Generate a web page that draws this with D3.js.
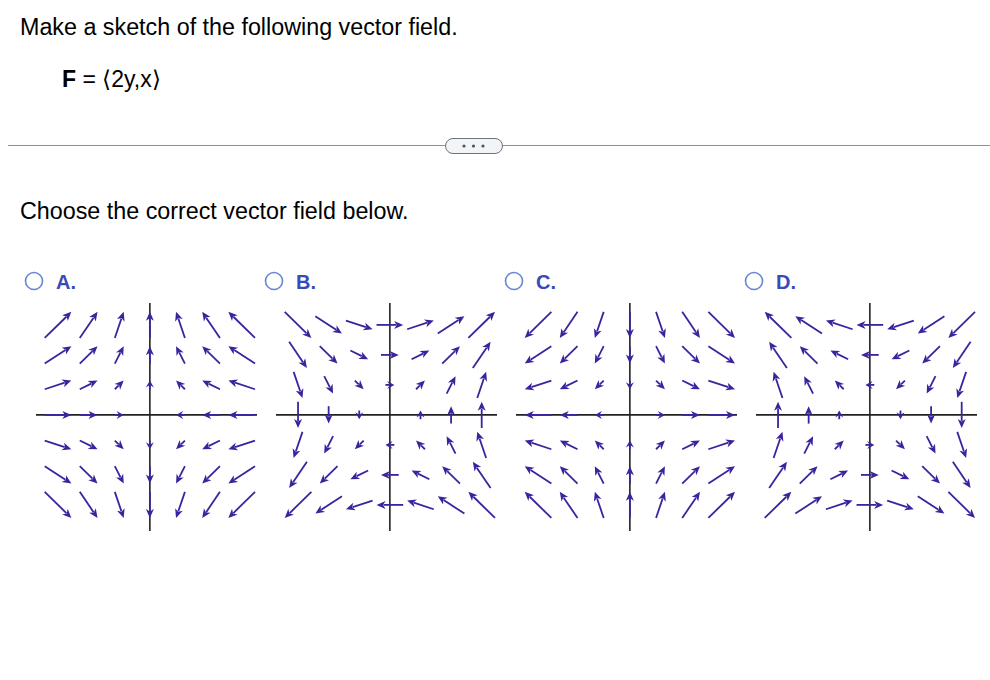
<!DOCTYPE html>
<html>
<head>
<meta charset="utf-8">
<script src="https://cdn.jsdelivr.net/npm/d3@7"></script>
<style>
  body { margin: 0; background: #fff; }
  svg { display: block; font-family: "Liberation Sans", Arial, sans-serif; }
</style>
</head>
<body>
<div id="chart"></div>
<script>
// Grid of sample points (columns left to right, rows top to bottom)
const gridX = [-3, -2, -1, 0, 1, 2, 3]
const gridY = [3, 2, 1, 0, -1, -2, -3]
const optionLabels = ['A.', 'B.', 'C.', 'D.']

const uA = [
  [3, 2, 1, 0, -1, -2, -3],
  [3, 2, 1, 0, -1, -2, -3],
  [3, 2, 1, 0, -1, -2, -3],
  [3, 2, 1, 0, -1, -2, -3],
  [3, 2, 1, 0, -1, -2, -3],
  [3, 2, 1, 0, -1, -2, -3],
  [3, 2, 1, 0, -1, -2, -3]]
const vA = [
  [3, 3, 3, 3, 3, 3, 3],
  [2, 2, 2, 2, 2, 2, 2],
  [1, 1, 1, 1, 1, 1, 1],
  [0, 0, 0, 0, 0, 0, 0],
  [-1, -1, -1, -1, -1, -1, -1],
  [-2, -2, -2, -2, -2, -2, -2],
  [-3, -3, -3, -3, -3, -3, -3]]
const uB = [
  [3, 3, 3, 3, 3, 3, 3],
  [2, 2, 2, 2, 2, 2, 2],
  [1, 1, 1, 1, 1, 1, 1],
  [0, 0, 0, 0, 0, 0, 0],
  [-1, -1, -1, -1, -1, -1, -1],
  [-2, -2, -2, -2, -2, -2, -2],
  [-3, -3, -3, -3, -3, -3, -3]]
const vB = [
  [-3, -2, -1, 0, 1, 2, 3],
  [-3, -2, -1, 0, 1, 2, 3],
  [-3, -2, -1, 0, 1, 2, 3],
  [-3, -2, -1, 0, 1, 2, 3],
  [-3, -2, -1, 0, 1, 2, 3],
  [-3, -2, -1, 0, 1, 2, 3],
  [-3, -2, -1, 0, 1, 2, 3]]
const uC = [
  [-3, -2, -1, 0, 1, 2, 3],
  [-3, -2, -1, 0, 1, 2, 3],
  [-3, -2, -1, 0, 1, 2, 3],
  [-3, -2, -1, 0, 1, 2, 3],
  [-3, -2, -1, 0, 1, 2, 3],
  [-3, -2, -1, 0, 1, 2, 3],
  [-3, -2, -1, 0, 1, 2, 3]]
const vC = [
  [-3, -3, -3, -3, -3, -3, -3],
  [-2, -2, -2, -2, -2, -2, -2],
  [-1, -1, -1, -1, -1, -1, -1],
  [0, 0, 0, 0, 0, 0, 0],
  [1, 1, 1, 1, 1, 1, 1],
  [2, 2, 2, 2, 2, 2, 2],
  [3, 3, 3, 3, 3, 3, 3]]
const uD = [
  [-3, -3, -3, -3, -3, -3, -3],
  [-2, -2, -2, -2, -2, -2, -2],
  [-1, -1, -1, -1, -1, -1, -1],
  [0, 0, 0, 0, 0, 0, 0],
  [1, 1, 1, 1, 1, 1, 1],
  [2, 2, 2, 2, 2, 2, 2],
  [3, 3, 3, 3, 3, 3, 3]]
const vD = [
  [3, 2, 1, 0, -1, -2, -3],
  [3, 2, 1, 0, -1, -2, -3],
  [3, 2, 1, 0, -1, -2, -3],
  [3, 2, 1, 0, -1, -2, -3],
  [3, 2, 1, 0, -1, -2, -3],
  [3, 2, 1, 0, -1, -2, -3],
  [3, 2, 1, 0, -1, -2, -3]]

const fields = [[uA, vA], [uB, vB], [uC, vC], [uD, vD]]

const width = 990, height = 680
const arrowColor = '#3d229e'
const labelColor = '#3a4ab8'
const vecScale = 0.29 // vector length in grid units per unit of field

const svg = d3.select('#chart').append('svg')
  .attr('width', width)
  .attr('height', height)
  .attr('viewBox', `0 0 ${width} ${height}`)

// Question text
svg.append('text')
  .attr('x', 20).attr('y', 35)
  .attr('font-size', 23.3).attr('fill', '#000')
  .text('Make a sketch of the following vector field.')

const formula = svg.append('text')
  .attr('x', 62).attr('y', 87)
  .attr('font-size', 23).attr('fill', '#000')
formula.append('tspan').attr('font-weight', 'bold').text('F')
formula.append('tspan').text(' = \u27E82y,x\u27E9')

// Divider with the "more" pill
svg.append('line')
  .attr('x1', 8).attr('x2', width).attr('y1', 145.5).attr('y2', 145.5)
  .attr('stroke', '#8a8f98').attr('stroke-width', 1)
svg.append('rect')
  .attr('x', 445.5).attr('y', 138.5).attr('width', 57).attr('height', 15).attr('rx', 7.5)
  .attr('fill', '#f3f4f6').attr('stroke', '#6b7280').attr('stroke-width', 1)
svg.selectAll('.dot').data([-9.5, 0, 9.5]).enter().append('circle')
  .attr('class', 'dot')
  .attr('cx', d => 473.5 + d).attr('cy', 146).attr('r', 1.6)
  .attr('fill', '#4b5563')

svg.append('text')
  .attr('x', 20).attr('y', 219)
  .attr('font-size', 23.3).attr('fill', '#000')
  .text('Choose the correct vector field below.')

// One option per panel
fields.forEach(([U, V], i) => {
  const ox = 240 * i

  // Radio button and label
  svg.append('circle')
    .attr('cx', 34 + ox).attr('cy', 281).attr('r', 8.5)
    .attr('fill', 'none').attr('stroke', '#6d86d6').attr('stroke-width', 1.6)
  svg.append('text')
    .attr('x', 56 + ox).attr('y', 288.5)
    .attr('font-size', 20).attr('font-weight', 'bold').attr('fill', labelColor)
    .text(optionLabels[i])

  const x = d3.scaleLinear().domain([-3.72, 3.5]).range([36 + ox, 257 + ox])
  const y = d3.scaleLinear().domain([-3.87, 3.73]).range([531, 303])

  const g = svg.append('g').attr('class', 'panel')

  // Axes
  g.append('line')
    .attr('x1', x(-3.72)).attr('x2', x(3.5)).attr('y1', y(0)).attr('y2', y(0))
    .attr('stroke', '#222').attr('stroke-width', 1.6)
  g.append('line')
    .attr('x1', x(0)).attr('x2', x(0)).attr('y1', y(-3.87)).attr('y2', y(3.73))
    .attr('stroke', '#222').attr('stroke-width', 1.6)

  // Arrows centred at each grid point
  const vecs = []
  gridY.forEach((gy, r) => gridX.forEach((gx, c) => {
    if (U[r][c] !== 0 || V[r][c] !== 0) vecs.push({gx, gy, u: U[r][c], v: V[r][c]})
  }))

  const arrows = g.selectAll('.arrow').data(vecs).enter().append('g').attr('class', 'arrow')
  arrows.each(function(d) {
    const x0 = x(d.gx - d.u * vecScale / 2), y0 = y(d.gy - d.v * vecScale / 2)
    const x1 = x(d.gx + d.u * vecScale / 2), y1 = y(d.gy + d.v * vecScale / 2)
    const len = Math.hypot(x1 - x0, y1 - y0)
    const ux = (x1 - x0) / len, uy = (y1 - y0) / len
    const hl = Math.min(9, len * 0.8), hw = 4
    const bx = x1 - ux * hl, by = y1 - uy * hl
    const el = d3.select(this)
    el.append('line')
      .attr('x1', x0).attr('y1', y0).attr('x2', bx + ux * 2).attr('y2', by + uy * 2)
      .attr('stroke', arrowColor).attr('stroke-width', 1.8)
    el.append('path')
      .attr('d', `M${x1},${y1}L${bx - uy * hw},${by + ux * hw}L${bx + ux * 2.5},${by + uy * 2.5}L${bx + uy * hw},${by - ux * hw}Z`)
      .attr('fill', arrowColor)
  })
})
</script>
</body>
</html>
